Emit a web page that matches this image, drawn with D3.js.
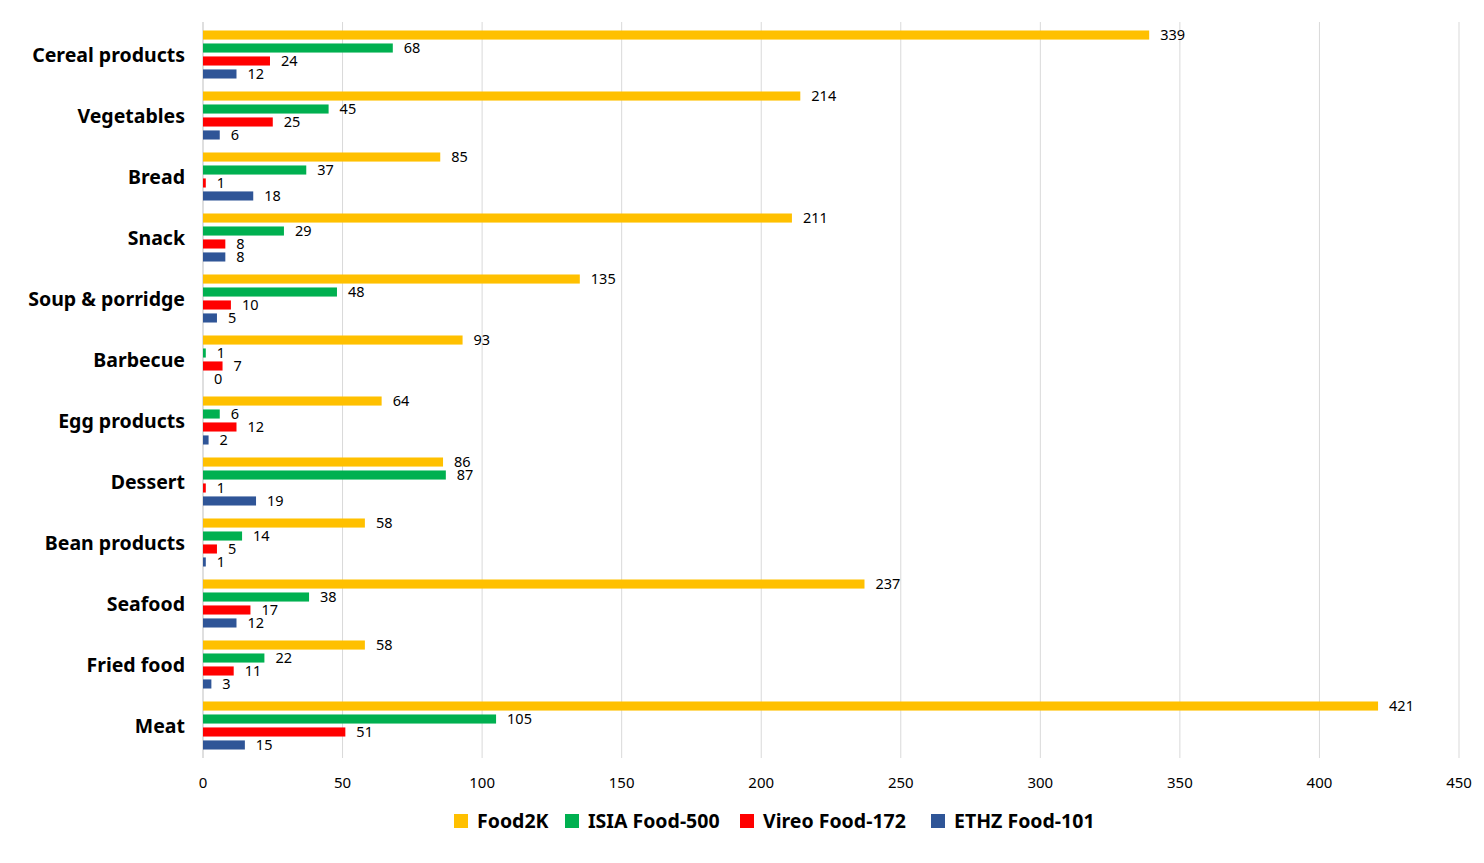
<!DOCTYPE html>
<html>
<head>
<meta charset="utf-8">
<script src="https://cdn.jsdelivr.net/npm/d3@7"></script>
<style>
  body { margin: 0; background: #fff; font-family: "Noto Sans", "Open Sans", sans-serif; }
</style>
</head>
<body>
<div id="chart"></div>
<script>
const categories = ["Cereal products","Vegetables","Bread","Snack","Soup & porridge","Barbecue","Egg products","Dessert","Bean products","Seafood","Fried food","Meat"];
const seriesNames = ["Food2K","ISIA Food-500","Vireo Food-172","ETHZ Food-101"];
const colors = ["#FFC000","#00B050","#FF0000","#2F5597"];
const food2k = [339,214,85,211,135,93,64,86,58,237,58,421];
const isia = [68,45,37,29,48,1,6,87,14,38,22,105];
const vireo = [24,25,1,8,10,7,12,1,5,17,11,51];
const ethz = [12,6,18,8,5,0,2,19,1,12,3,15];
const ticks = [0,50,100,150,200,250,300,350,400,450];

const seriesValues = [food2k, isia, vireo, ethz];
const width = 1484, height = 863;

let svg = d3.select("#chart").append("svg")
    .attr("width", width)
    .attr("height", height);

let x = d3.scaleLinear().domain([0,450]).range([203,1459]);
let y = d3.scaleBand().domain(categories).range([24,756]);
let ySub = d3.scaleBand().domain(seriesNames).range([0, y.bandwidth()])
    .paddingInner(0.3).paddingOuter(0.5);

// gridlines
svg.append("g").selectAll("line").data(ticks.slice(1)).enter()
    .append("line")
    .attr("x1", d => x(d)).attr("x2", d => x(d))
    .attr("y1", 22).attr("y2", 758)
    .attr("stroke", "#d9d9d9").attr("stroke-width", 1);
svg.append("line")
    .attr("x1", x(0)).attr("x2", x(0)).attr("y1", 22).attr("y2", 758)
    .attr("stroke", "#bfbfbf");

// tick labels
svg.append("g").selectAll("text").data(ticks).enter()
    .append("text")
    .attr("x", d => x(d)).attr("y", 788)
    .attr("text-anchor", "middle")
    .style("font-size", "15px").style("fill", "#000")
    .text(d => d);

// category labels
svg.append("g").selectAll("text").data(categories).enter()
    .append("text")
    .attr("x", 185).attr("y", d => y(d) + y.bandwidth()/2 + 7)
    .attr("text-anchor", "end")
    .style("font-size", "19.5px").style("font-weight", "bold")
    .text(d => d);

// bars
let flat = [];
categories.forEach((c, i) => seriesNames.forEach((s, j) => flat.push({c: c, s: s, v: seriesValues[j][i], col: colors[j]})));

let bars = svg.append("g").selectAll("rect").data(flat);
bars.enter().append("rect")
    .attr("x", x(0))
    .attr("y", d => y(d.c) + ySub(d.s))
    .attr("width", d => x(d.v) - x(0))
    .attr("height", ySub.bandwidth())
    .attr("fill", d => d.col);

svg.append("g").selectAll("text").data(flat).enter()
    .append("text")
    .attr("x", d => x(d.v) + 11)
    .attr("y", d => y(d.c) + ySub(d.s) + ySub.bandwidth()/2 + 5)
    .style("font-size", "14.5px")
    .text(d => d.v);

// legend
let legX = [454, 565, 740, 931];
let leg = svg.append("g").selectAll("g").data(seriesNames).enter()
    .append("g")
    .attr("transform", (d, i) => `translate(${legX[i]},821)`);
leg.append("rect").attr("x", 0).attr("y", -7).attr("width", 14).attr("height", 14)
    .attr("fill", (d, i) => colors[i]);
leg.append("text").attr("x", 23).attr("y", 7)
    .style("font-size", "19.5px").style("font-weight", "bold")
    .text(d => d);
</script>
</body>
</html>
